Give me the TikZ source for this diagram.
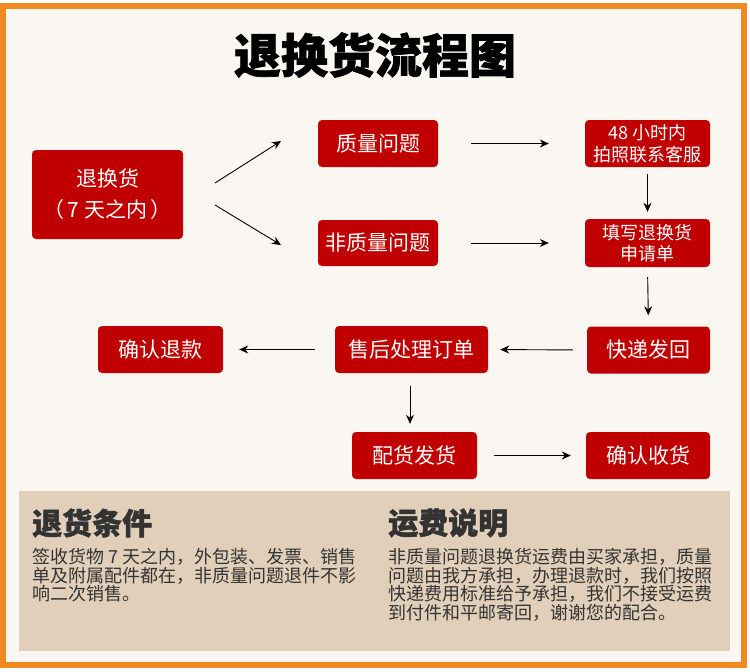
\documentclass[tikz,border=0pt]{standalone}
\usepackage{fontspec}
\newfontfamily\cjk{Noto Sans CJK SC}
\newfontfamily\cjkheavy[BoldFeatures={FakeBold=1.5}]{Noto Sans CJK SC}
\usetikzlibrary{arrows.meta}
\definecolor{frameor}{HTML}{F08A1E}
\definecolor{bgcream}{HTML}{FAF7F2}
\definecolor{boxred}{HTML}{C00000}
\definecolor{paneltan}{HTML}{E1CFBA}
\definecolor{darktxt}{HTML}{333333}
\tikzset{
  redbox/.style={fill=boxred, rounded corners=4pt, text=white, align=center, inner sep=0pt,
    font=\cjk\fontsize{21}{25}\selectfont},
  smallbox/.style={redbox, font=\cjk\fontsize{18}{21.5}\selectfont},
  flow/.style={draw=black, line width=0.9pt, -{Stealth[length=9pt,width=8pt]}},
  heading/.style={anchor=west, inner sep=0pt, text=darktxt, font=\cjkheavy\bfseries\fontsize{30}{34}\selectfont},
  body/.style={anchor=north west, inner sep=0pt, text=darktxt, align=left,
    font=\cjk\fontsize{18}{18.6}\selectfont}
}
\begin{document}
\begin{tikzpicture}[x=1pt,y=-1pt]
\useasboundingbox (0,0) rectangle (750,672);
\fill[white] (0,0) rectangle (750,672);
\fill[bgcream] (3,6) rectangle (744,665);
\draw[frameor, line width=6pt] (3,6) rectangle (744,665);
% title
\node[inner sep=0pt, font=\cjkheavy\bfseries\fontsize{47}{50}\selectfont] (title) at (375,55) {退换货流程图};
% boxes
\node[redbox, minimum width=151pt, minimum height=89pt, font=\cjk\fontsize{21}{31}\selectfont] (start) at (107.5,194.5) {退换货\\（\,7 天之内\,）};
\node[redbox, minimum width=120pt, minimum height=47pt] (q) at (378,143.5) {质量问题};
\node[redbox, minimum width=120pt, minimum height=46pt] (nq) at (378,243) {非质量问题};
\node[smallbox, minimum width=125pt, minimum height=47pt] (c48) at (647.5,143.5) {48 小时内\\拍照联系客服};
\node[smallbox, minimum width=125pt, minimum height=48pt] (fill) at (647.5,243) {填写退换货\\申请单};
\node[redbox, minimum width=123pt, minimum height=47pt] (ship) at (648.5,350) {快递发回};
\node[redbox, minimum width=153pt, minimum height=47pt] (proc) at (411.5,349.5) {售后处理订单};
\node[redbox, minimum width=125pt, minimum height=47pt] (refund) at (160.5,349.5) {确认退款};
\node[redbox, minimum width=125pt, minimum height=47pt] (dist) at (414.5,455.5) {配货发货};
\node[redbox, minimum width=124pt, minimum height=47pt] (recv) at (648,455.5) {确认收货};
% connectors
\coordinate (a1s) at (215,183);
\coordinate (a1e) at (281,141);
\coordinate (a2s) at (215,205);
\coordinate (a2e) at (281,245);
\draw[flow] (a1s) -- (a1e);
\draw[flow] (a2s) -- (a2e);
\draw[flow, shorten <=33pt, shorten >=36pt] (q.east) -- (c48.west);
\draw[flow, shorten <=33pt, shorten >=36pt] (nq.east) -- (fill.west);
\draw[flow, shorten <=7pt, shorten >=7pt] (c48.south) -- (fill.north);
\draw[flow, shorten <=10pt, shorten >=11pt] (fill.south) -- (ship.north);
\draw[flow, shorten <=14pt, shorten >=12pt] (ship.west) -- (proc.east);
\draw[flow, shorten <=20pt, shorten >=16pt] (proc.west) -- (refund.east);
\draw[flow, shorten <=13pt, shorten >=8pt] ([xshift=-1.5pt]proc.south) -- ([xshift=-1.5pt]proc.south |- dist.north);
\draw[flow, shorten <=17pt, shorten >=15pt] (dist.east) -- (recv.west);
% bottom panel
\fill[paneltan] (19,491) rectangle (730,651);
\node[heading] (h1) at (32,523) {退货条件};
\node[heading] (h2) at (388,523) {运费说明};
\node[body] (t1) at (32,548) {签收货物 7 天之内，外包装、发票、销售\\单及附属配件都在，非质量问题退件不影\\响二次销售。};
\node[body] (t2) at (388,548) {非质量问题退换货运费由买家承担，质量\\问题由我方承担，办理退款时，我们按照\\快递费用标准给予承担，我们不接受运费\\到付件和平邮寄回，谢谢您的配合。};
\end{tikzpicture}
\end{document}
